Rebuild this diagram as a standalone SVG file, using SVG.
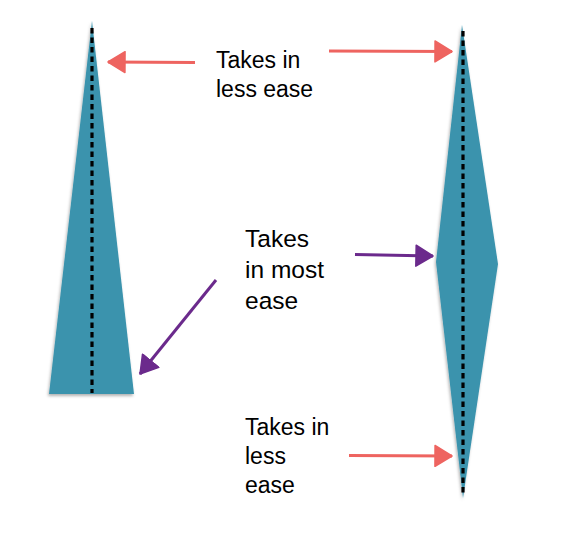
<svg xmlns="http://www.w3.org/2000/svg" width="572" height="539" viewBox="0 0 572 539">
<defs>
<style>
.shape{fill:#3b93ad;filter:url(#shadow);}
.axis{stroke:#000;stroke-width:3.2;stroke-dasharray:5.5 4;fill:none;}
.red{stroke:#ee6460;stroke-width:3;fill:none;}
.purple{stroke:#6b2a8c;stroke-width:3;fill:none;}
.lbl{font-family:"Liberation Sans",Arial,sans-serif;font-size:23px;fill:#000;}
.lbl-big{font-size:24.5px;}
</style>
<filter id="shadow" x="-20%" y="-5%" width="140%" height="110%">
<feDropShadow dx="-1" dy="2" stdDeviation="1.5" flood-color="#000" flood-opacity="0.3"/>
</filter>
<marker id="headRed" markerUnits="userSpaceOnUse" viewBox="0 0 19 23" refX="18" refY="11.5" markerWidth="19" markerHeight="23" orient="auto">
<path d="M1,1 L18,11.5 L1,22 Z" fill="#ee6460" stroke="#ee6460" stroke-width="1.5" stroke-linejoin="round"/>
</marker>
<marker id="headPurple" markerUnits="userSpaceOnUse" viewBox="0 0 19 23" refX="18" refY="11.5" markerWidth="19" markerHeight="23" orient="auto">
<path d="M1,1 L18,11.5 L1,22 Z" fill="#6b2a8c" stroke="#6b2a8c" stroke-width="1.5" stroke-linejoin="round"/>
</marker>
</defs>
<rect width="572" height="539" fill="#fff"/>

<g id="left-spike">
<polygon class="shape" points="92,21 134,394 49,394"/>
<line class="axis" x1="92" y1="28" x2="92" y2="393"/>
</g>

<g id="right-spindle">
<polygon class="shape" points="462,25 498,264 463,498 436,262"/>
<line class="axis" x1="463" y1="31" x2="463" y2="496"/>
</g>

<g id="label-top">
<text class="lbl" x="216" y="68">Takes in</text>
<text class="lbl" x="216" y="97">less ease</text>
</g>

<g id="label-middle">
<text class="lbl lbl-big" x="245" y="247">Takes</text>
<text class="lbl lbl-big" x="245" y="278">in most</text>
<text class="lbl lbl-big" x="245" y="309">ease</text>
</g>

<g id="label-bottom">
<text class="lbl" x="245" y="435">Takes in</text>
<text class="lbl" x="245" y="464">less</text>
<text class="lbl" x="245" y="493">ease</text>
</g>

<g id="connectors">
<line class="red" x1="195" y1="62.5" x2="108" y2="62" marker-end="url(#headRed)"/>
<line class="red" x1="329" y1="51" x2="452" y2="51.5" marker-end="url(#headRed)"/>
<line class="purple" x1="216" y1="280" x2="140" y2="374" marker-end="url(#headPurple)"/>
<line class="purple" x1="355" y1="254.5" x2="433" y2="256" marker-end="url(#headPurple)"/>
<line class="red" x1="349" y1="455.5" x2="452" y2="456" marker-end="url(#headRed)"/>
</g>
</svg>
